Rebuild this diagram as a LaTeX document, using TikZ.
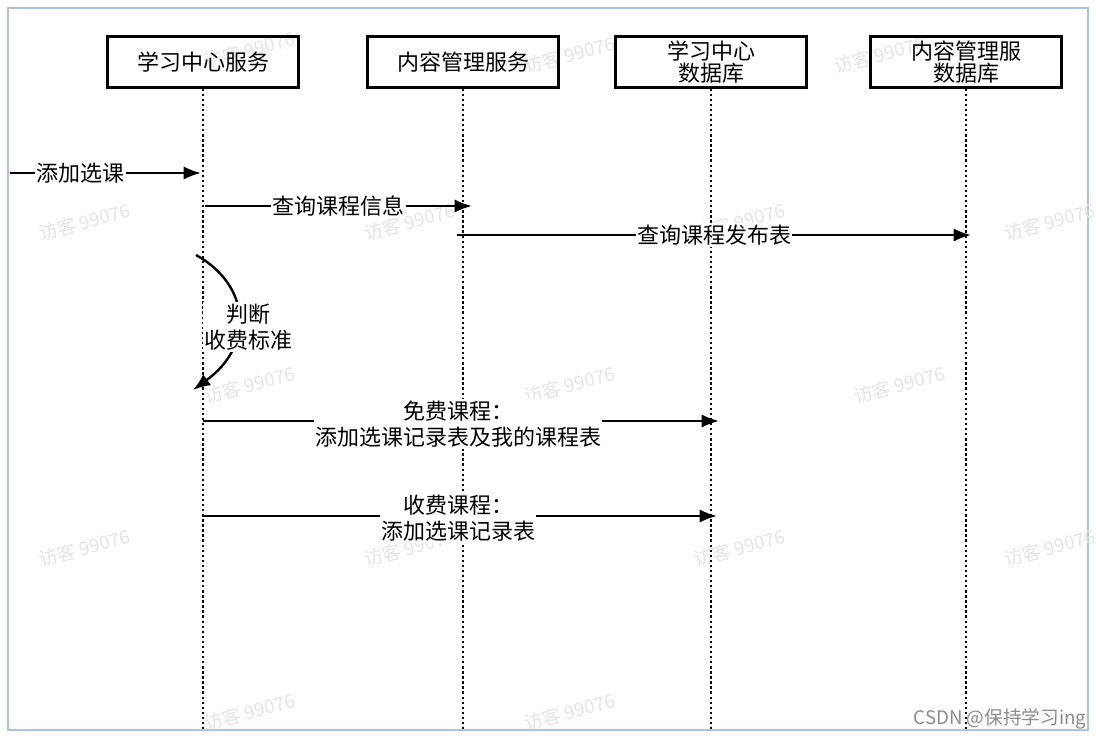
\documentclass[tikz,border=0pt]{standalone}
\usepackage{fontspec}
\setmainfont{Noto Sans CJK SC}
\usetikzlibrary{arrows.meta}
\begin{document}
\begin{tikzpicture}[x=0.75pt,y=-0.75pt,
  font=\fontsize{16.5pt}{20pt}\selectfont,
  obj/.style={draw,line width=1.8pt,minimum width=143pt,minimum height=38pt,inner sep=0pt,align=center,font=\fontsize{16.5pt}{17pt}\selectfont},
  life/.style={line width=1.8pt,dotted},
  msg/.style={line width=1.8pt,-{Latex[length=13pt,width=10pt]}},
  lbl/.style={fill=white,inner sep=1pt,align=center},
  wm/.style={text=black!10,rotate=15,font=\fontsize{14pt}{15pt}\selectfont}]
\useasboundingbox (0,0) rectangle (1096,737);
\fill[white] (0,0) rectangle (1096,737);
\draw[draw={rgb,255:red,170;green,195;blue,235},line width=1.2pt] (8,8) rectangle (1088,730);
\foreach \x/\y in {250/50,570/55,880/55,85/222,410/222,740/222,1050/222,250/385,570/385,900/385,85/548,410/548,740/548,1050/548,250/712,570/712}
  \node[wm] at (\x,\y) {访客 99076};
\node[obj] (a) at (203,62) {学习中心服务};
\node[obj] (b) at (463,62) {内容管理服务};
\node[obj] (c) at (711,62) {学习中心\\数据库};
\node[obj] (d) at (966,62) {内容管理服\\数据库};
\coordinate (ae) at (203,730); \coordinate (be) at (463,730);
\coordinate (ce) at (711,730); \coordinate (de) at (966,730);
\draw[life] (a) -- (ae); \draw[life] (b) -- (be);
\draw[life] (c) -- (ce); \draw[life] (d) -- (de);
\coordinate (s1) at (10,173); \coordinate (e1) at (201,173);
\draw[msg] (s1) -- node[lbl,pos=0.37]{添加选课} (e1);
\coordinate (s2) at (205,206); \coordinate (e2) at (472,206);
\draw[msg] (s2) -- node[lbl,pos=0.5]{查询课程信息} (e2);
\coordinate (s3) at (457,235); \coordinate (e3) at (971,235);
\draw[msg] (s3) -- node[lbl,pos=0.5]{查询课程发布表} (e3);
\coordinate (s4) at (196,255); \coordinate (e4) at (193,390);
\draw[msg] (s4) .. controls (250,285) and (255,345) .. (e4);
\node[lbl] (j) at (248,327) {判断\\收费标准};
\coordinate (s5) at (203,421); \coordinate (e5) at (719,421);
\draw[msg] (s5) -- (e5);
\node[lbl] (l5) at (458,424) {免费课程：\\添加选课记录表及我的课程表};
\coordinate (s6) at (203,516); \coordinate (e6) at (717,516);
\draw[msg] (s6) -- (e6);
\node[lbl] (l6) at (458,518) {收费课程：\\添加选课记录表};
\node[text=black!45,font=\fontsize{14pt}{15pt}\selectfont] (w) at (1000,719) {CSDN @保持学习ing};
\end{tikzpicture}
\end{document}
